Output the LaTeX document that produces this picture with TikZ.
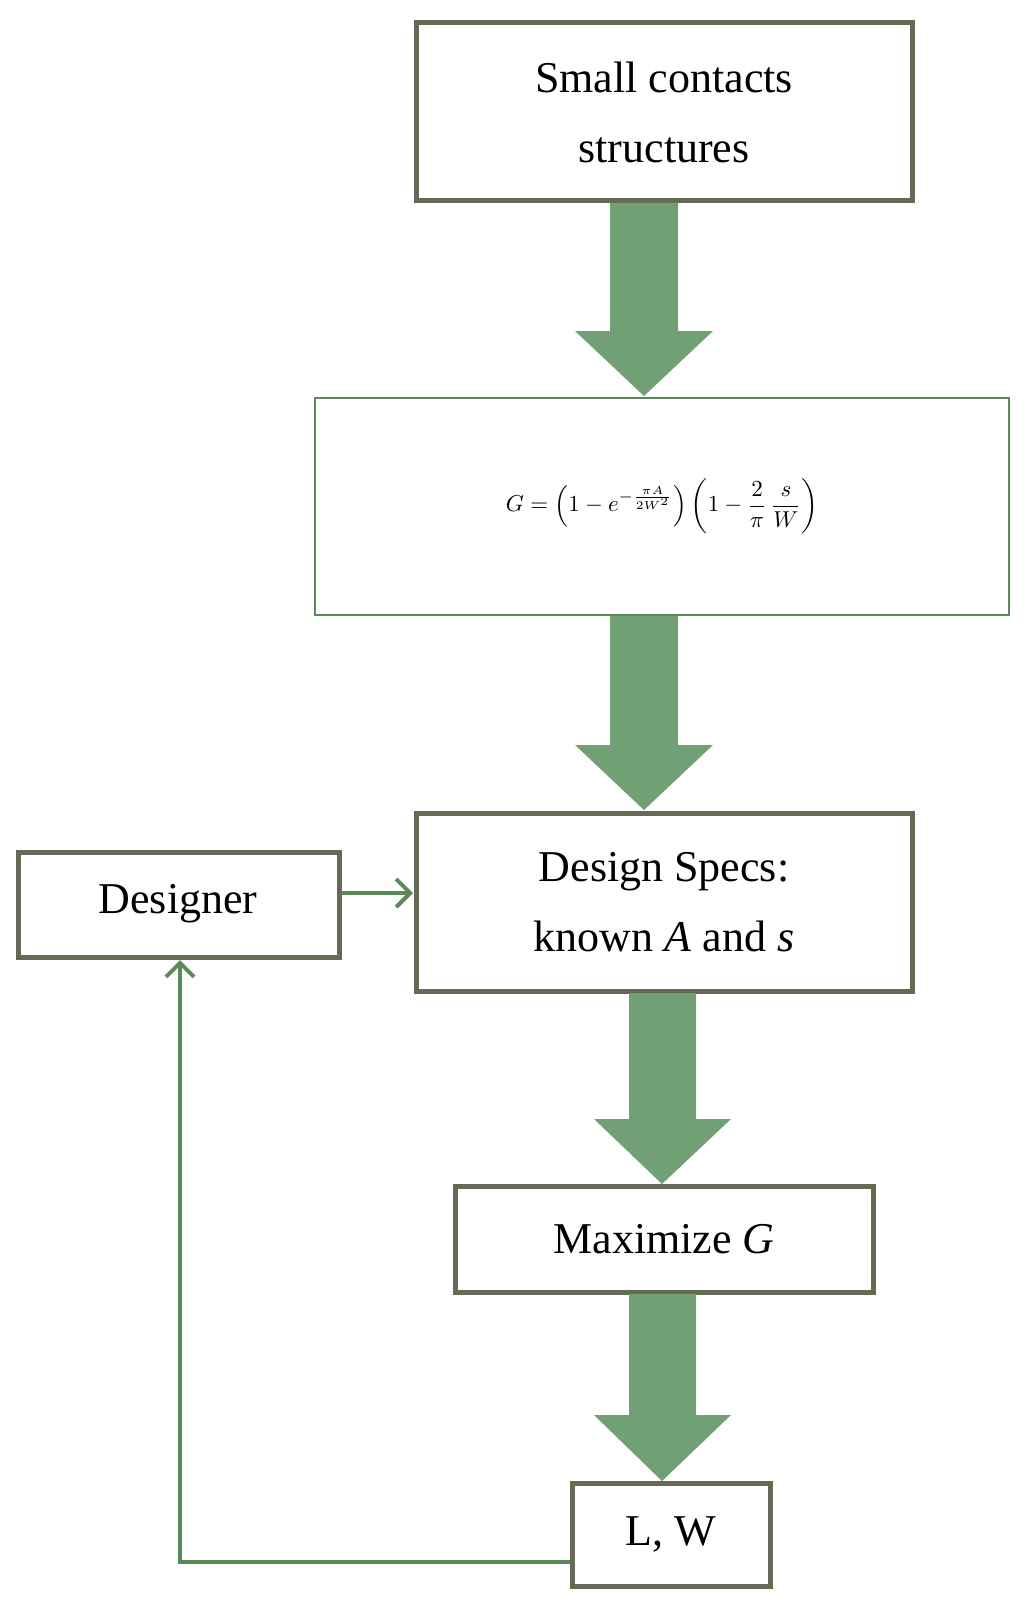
\documentclass[tikz,border=0pt]{standalone}
\usepackage{fontspec}
\setmainfont{Liberation Serif}
\usetikzlibrary{arrows.meta}
\definecolor{bd}{RGB}{102,106,85}
\definecolor{gf}{RGB}{112,160,116}
\definecolor{gl}{RGB}{90,138,90}
\begin{document}
\begin{tikzpicture}[x=1pt,y=-1pt,
  bx/.style={draw=bd,line width=5pt,fill=white},
  txt/.style={font=\fontsize{44}{70}\selectfont,align=center},
  blk/.style={fill=gf,draw=none}]
\useasboundingbox (0,0) rectangle (1024,1608);
% boxes
\draw[bx] (416,23) rectangle (912,201); \node[txt] (top) at (664,112) {Small contacts\\structures};
\draw[draw=gl,line width=1.5pt,fill=white] (315,398) rectangle (1009,615);
\node[scale=2.3,transform shape] (f) at (662,506) {$\displaystyle G=\left(1-e^{-\frac{\pi A}{2W^{2}}}\right)\left(1-\frac{2}{\pi}\,\frac{s}{W}\right)$};
\draw[bx] (416,813) rectangle (912,991); \node[txt] (spec) at (664,902) {Design Specs:\\known \textit{A} and \textit{s}};
\draw[bx] (18,852) rectangle (339,957); \node[txt] (des) at (178,904) {Designer};
\draw[bx] (455,1186) rectangle (873,1292); \node[txt] (max) at (664,1239) {Maximize \textit{G}};
\draw[bx] (572,1483) rectangle (770,1586); \node[txt] (lw) at (671,1534) {L, W};
% block arrows
\fill[blk] (610,203) -- (678,203) -- (678,331) -- (713,331) -- (644,396) -- (575,331) -- (610,331) -- cycle;
\fill[blk] (610,616) -- (678,616) -- (678,745) -- (713,745) -- (644,810) -- (575,745) -- (610,745) -- cycle;
\fill[blk] (629,993) -- (696,993) -- (696,1119) -- (731,1119) -- (662,1184) -- (594,1119) -- (629,1119) -- cycle;
\fill[blk] (629,1294) -- (696,1294) -- (696,1415) -- (731,1415) -- (662,1481) -- (594,1415) -- (629,1415) -- cycle;
% connectors
\coordinate (a1) at (341,893); \coordinate (a2) at (413,893);
\draw[gl,line width=4pt,-{Straight Barb[length=14pt,width=28pt]}] (a1) -- (a2);
\coordinate (b1) at (570,1562); \coordinate (b2) at (180,1562); \coordinate (b3) at (180,960);
\draw[gl,line width=4pt,-{Straight Barb[length=14pt,width=28pt]}] (b1) -- (b2) -- (b3);
\end{tikzpicture}
\end{document}
